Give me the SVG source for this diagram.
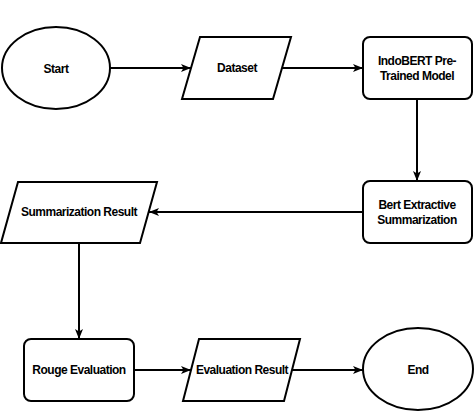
<svg xmlns="http://www.w3.org/2000/svg" width="474" height="412" viewBox="0 0 474 412">
<style>
.n{fill:#fff;stroke:#000;stroke-width:2}
.t{font-family:"Liberation Sans",Arial,sans-serif;font-weight:bold;font-size:12px;letter-spacing:-0.5px;fill:#000;text-anchor:middle;dominant-baseline:central}
.c{stroke:#000;stroke-width:2;fill:none;marker-end:url(#arr)}
</style>
<defs>
<marker id="arr" viewBox="0 0 10 8" refX="10" refY="4" markerWidth="10" markerHeight="8" markerUnits="userSpaceOnUse" orient="auto">
<path d="M0,0 L10,4 L0,8 L2.5,4 Z" fill="#000"/>
</marker>
</defs>
<rect width="474" height="412" fill="#fff"/>
<g id="connectors">
<line class="c" x1="110" y1="68" x2="191" y2="68"/>
<line class="c" x1="282" y1="68" x2="363" y2="68"/>
<line class="c" x1="417" y1="99" x2="417" y2="181"/>
<line class="c" x1="363" y1="212" x2="149" y2="212"/>
<line class="c" x1="79" y1="243" x2="79" y2="339"/>
<line class="c" x1="134" y1="370" x2="191" y2="370"/>
<line class="c" x1="292" y1="370" x2="363" y2="370"/>
</g>
<g id="start">
<ellipse class="n" cx="56" cy="68" rx="54" ry="41"/>
<text class="t" x="56" y="69">Start</text>
</g>
<g id="dataset">
<polygon class="n" points="200,37 291,37 273,99 182,99"/>
<text class="t" x="237" y="68">Dataset</text>
</g>
<g id="indobert">
<rect class="n" x="363" y="37" width="109" height="62" rx="7"/>
<text class="t" x="417" y="61">IndoBERT Pre-</text>
<text class="t" x="417" y="76">Trained Model</text>
</g>
<g id="bert-extractive">
<rect class="n" x="363" y="181" width="109" height="62" rx="7"/>
<text class="t" x="417" y="205">Bert Extractive</text>
<text class="t" x="417" y="220">Summarization</text>
</g>
<g id="summarization-result">
<polygon class="n" points="18,182 157,182 140,243 1,243"/>
<text class="t" x="79" y="212">Summarization Result</text>
</g>
<g id="rouge">
<rect class="n" x="24" y="339" width="110" height="62" rx="7"/>
<text class="t" x="79" y="370">Rouge Evaluation</text>
</g>
<g id="evaluation-result">
<polygon class="n" points="199,339 300,339 284,401 183,401"/>
<text class="t" x="242" y="370">Evaluation Result</text>
</g>
<g id="end">
<ellipse class="n" cx="418" cy="369" rx="55" ry="41"/>
<text class="t" x="418" y="370">End</text>
</g>
</svg>
